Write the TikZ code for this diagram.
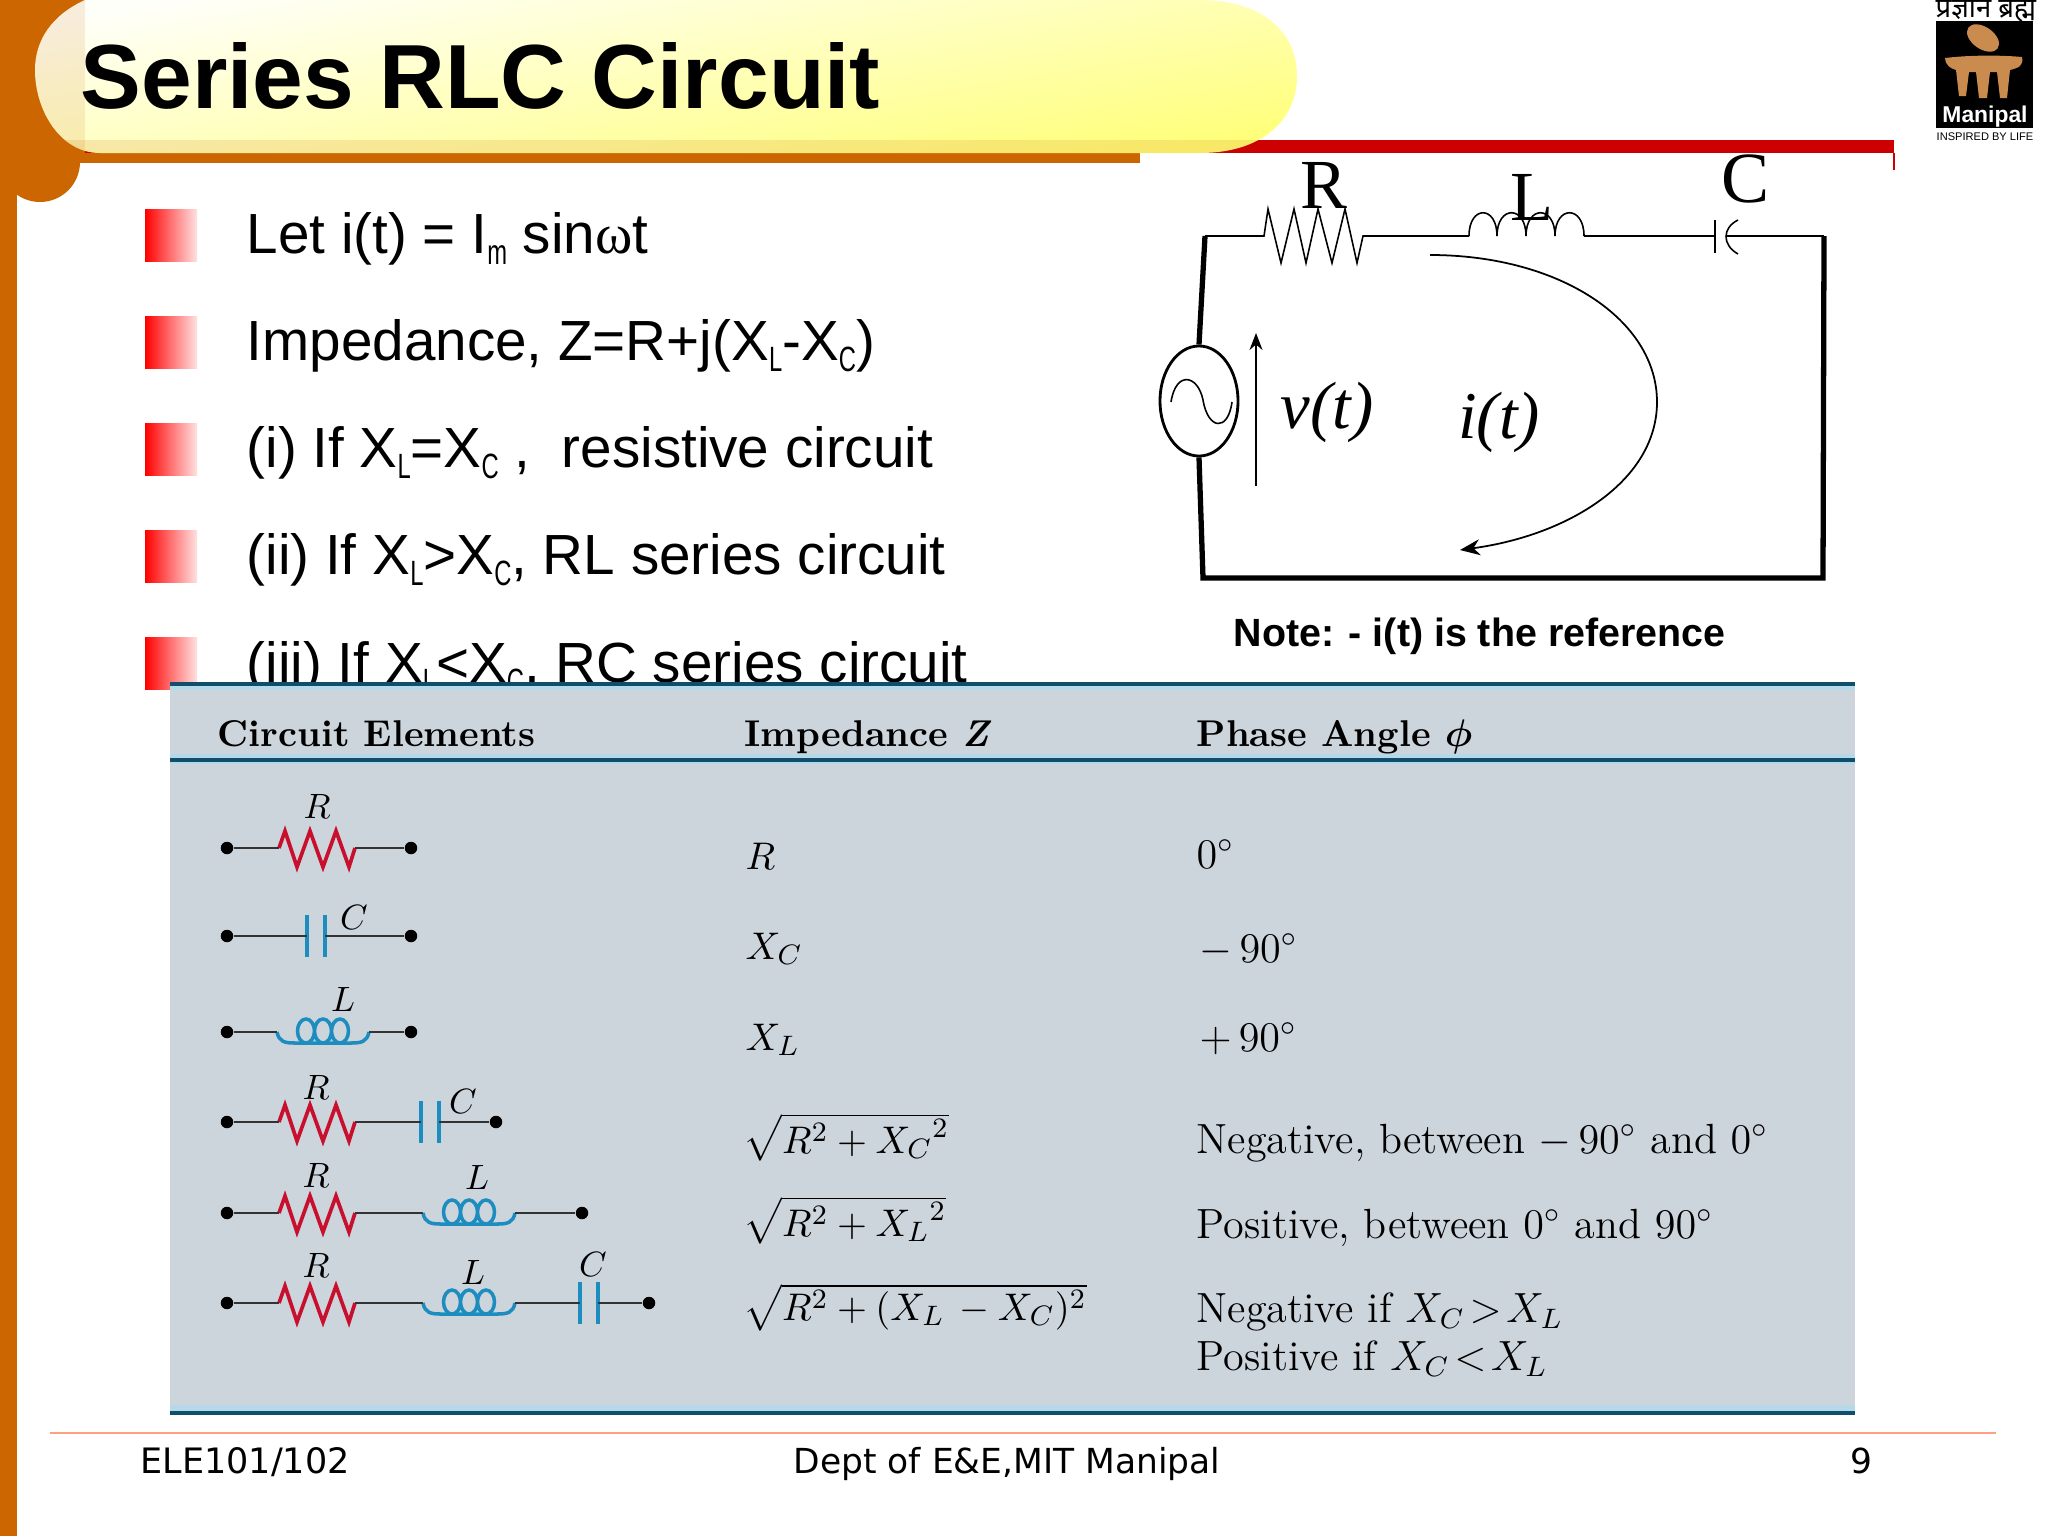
\documentclass[tikz,border=0pt]{standalone}
\usepackage{amsmath}
\usepackage{fontspec}
\usetikzlibrary{arrows.meta,shapes.geometric}
\newfontfamily\arial{Liberation Sans}
\newfontfamily\timesf{Liberation Serif}
\newfontfamily\footf{DejaVu Sans}
\newfontfamily\deva[Script=Devanagari]{Noto Sans}
\newcommand{\tsub}[1]{\raisebox{-.38ex}{\scalebox{.42}[.62]{#1}}}
\definecolor{slideorange}{HTML}{CC6600}
\definecolor{slidered}{HTML}{CC0000}
\definecolor{panel}{HTML}{CDD5DC}
\definecolor{ruleteal}{HTML}{0F4F6B}
\definecolor{paleblue}{HTML}{B5D9E8}
\definecolor{resred}{HTML}{C8102E}
\definecolor{capblue}{HTML}{1C8DBE}
\definecolor{logobrown}{HTML}{C98B4E}
\begin{document}
\begin{tikzpicture}[x=0.01cm,y=-0.01cm,
  txt/.style={anchor=base west,inner sep=0pt},
  bul/.style={txt,font=\arial\fontsize{16.1}{17}\selectfont},
  sq/.style={left color=red,right color=red!12,middle color=red!55},
  tab/.style={txt,font=\large},
  imp/.style={txt,font=\fontsize{10.95}{13}\selectfont},
  hdr/.style={txt,font=\bfseries\fontsize{10.6}{13}\selectfont},
  sym/.style={anchor=center,inner sep=0pt,font=\itshape\normalsize},
  big/.style={anchor=center,inner sep=0pt,font=\timesf\fontsize{20}{20}\selectfont},
  ita/.style={anchor=center,inner sep=0pt,font=\timesf\itshape\fontsize{19}{20}\selectfont},
  ele/.style={fill=black,circle,minimum size=0.125cm,inner sep=0pt},
  wire/.style={draw=black!80,line width=0.8pt},
  thinw/.style={draw=black,line width=0.45pt},
  heavy/.style={draw=black,line width=1.5pt},
  tres/.pic={\coordinate (-in) at (0,0); \coordinate (-out) at (76,0);
    \draw[resred,line width=1.05pt] (0,0) -- (6,-17) -- (18,19) -- (31,-17) -- (44,19) -- (57,-17) -- (70,19) -- (76,0);},
  tcap/.pic={\coordinate (-in) at (0,0); \coordinate (-out) at (18,0);
    \draw[capblue,line width=1.25pt] (0,-21) -- (0,21) (18,-21) -- (18,21);},
  tind/.pic={\coordinate (-in) at (0,0); \coordinate (-out) at (92,0);
    \draw[capblue,line width=1pt] (0,0) .. controls (2,10) and (8,11) .. (18,11) -- (74,11) .. controls (84,11) and (90,10) .. (92,0);
    \draw[capblue,line width=1pt] (29,-1) ellipse (8.5 and 12) (46,-1) ellipse (8.5 and 12) (63,-1) ellipse (8.5 and 12);}]
\useasboundingbox (0,0) rectangle (2048,1536);
% frame of the slide
\fill[slideorange] (0,0) rectangle (17,1536);
\fill[slideorange] (0,0) rectangle (85,163);
\fill[slideorange] (40,162) circle (40);
\fill[slidered] (85,140) rectangle (1894,153);
\fill[slidered] (1893,153) rectangle (1894.5,170);
\fill[slideorange] (85,153) rectangle (1140,163);
\path[top color=yellow!2,bottom color=yellow!52,shading angle=9,
  path picture={\fill[slideorange,opacity=.12] (0,0) rectangle (85,153);
    \fill[slideorange,opacity=.15] (0,140) rectangle (1300,153);}]
  (85,0) -- (1200,0) .. controls (1262,0) and (1297,32) .. (1297,76)
  .. controls (1297,120) and (1262,153) .. (1200,153) -- (100,153)
  .. controls (60,153) and (35,110) .. (35,70) .. controls (35,40) and (52,15) .. (85,0) -- cycle;
\node[txt,font=\arial\bfseries\fontsize{25.9}{26}\selectfont] (title) at (80,108) {Series RLC Circuit};
% bullets
\fill[sq] (145,209) rectangle (197,261);
\fill[sq] (145,316) rectangle (197,368);
\fill[sq] (145,423) rectangle (197,475);
\fill[sq] (145,530) rectangle (197,582);
\fill[sq] (145,637) rectangle (197,689);
\node[bul] (b1) at (246,253.5) {Let i(t) = I\tsub{m} sin{\timesf ω}t};
\node[bul] (b2) at (246,360.5) {Impedance, Z=R+j(X\tsub{L}-X\tsub{C})};
\node[bul] (b3) at (246,467.5) {(i) If X\tsub{L}=X\tsub{C} ,\ \ resistive circuit};
\node[bul] (b4) at (246,574.5) {(ii) If X\tsub{L}>X\tsub{C}, RL series circuit};
\node[bul] (b5) at (246,682) {(iii) If X\tsub{L}<X\tsub{C}, RC series circuit};
% circuit
\coordinate (tl) at (1205,236);
\coordinate (tr) at (1824,236);
\coordinate (bl) at (1203,578);
\coordinate (br) at (1823,578);
\coordinate (ra) at (1264,236);
\coordinate (rb) at (1363,236);
\coordinate (la) at (1469,236);
\coordinate (lb) at (1584,236);
\coordinate (ca) at (1715,236);
\coordinate (cb) at (1727,236);
\node[ellipse,draw,thick,minimum width=0.78cm,minimum height=1.1cm,inner sep=0pt] (src) at (1199,401) {};
\draw[thinw] (tl) -- (ra) -- (1268,209) -- (1281,263) -- (1294,209) -- (1306,263) -- (1318,209) -- (1332,263) -- (1345,209) -- (1357,263) -- (rb) -- (la);
\draw[thinw] (la) .. controls (1469,205) and (1497,205) .. (1497,236) .. controls (1497,205) and (1526,205) .. (1526,236)
  .. controls (1526,205) and (1555,205) .. (1555,236) .. controls (1555,205) and (1584,205) .. (lb);
\draw[thinw] (lb) -- (ca);
\draw[thinw] (1715,220) -- (1715,253);
\draw[thinw] (1738,220) .. controls (1722,228) and (1722,245) .. (1738,254);
\draw[thinw] (cb) -- (tr);
\draw[heavy] (tl) -- (src.north);
\draw[heavy] (src.south) -- (bl) -- (br) -- (tr);
\draw[thinw] (1171,402) .. controls (1176,370) and (1198,375) .. (1203,400) .. controls (1208,430) and (1228,432) .. (1232,402);
\coordinate (va) at (1256,486);
\coordinate (vb) at (1256,333);
\draw[thinw,-{Stealth[length=0.17cm,width=0.13cm]}] (va) -- (vb);
\coordinate (ia) at (1430,255);
\coordinate (ib) at (1657,402);
\coordinate (ic) at (1460,550);
\draw[thinw,line width=0.5pt,-{Stealth[length=0.2cm,width=0.16cm]}] (ia) .. controls (1560,255) and (1657,320) .. (ib) .. controls (1657,480) and (1570,535) .. (ic);
\node[big] (labR) at (1324,185) {R};
\node[big] (labL) at (1532,197) {L};
\node[big,font=\timesf\fontsize{20.5}{21}\selectfont] (labC) at (1746,179) {C};
\node[ita] (labv) at (1327,412) {v(t)};
\node[ita] (labi) at (1499,422) {i(t)};
\node[txt,font=\arial\bfseries\fontsize{11.2}{12}\selectfont] (note) at (1233,646) {Note: - i(t) is the reference};
% logo
\node[txt,font=\deva\bfseries\fontsize{7.8}{8}\selectfont] (hindi) at (1935,17) {प्रज्ञानं ब्रह्म};
\fill[black] (1936,21) rectangle (2033,128);
\fill[logobrown,rotate around={-35:(1983,38)}] (1983,38) ellipse (18 and 11);
\fill[logobrown] (1945,58) .. controls (1970,55) and (2000,55) .. (2022,57) .. controls (2024,66) and (2018,68) .. (2010,70)
  -- (2007,98) -- (2000,98) -- (1997,72) -- (1990,72) -- (1987,98) -- (1979,98) -- (1976,72) -- (1969,72) -- (1966,96) -- (1959,96) -- (1956,70) .. controls (1950,68) and (1946,66) .. (1945,58) -- cycle;
\node[anchor=center,inner sep=0pt,text=white,font=\arial\bfseries\fontsize{6.5}{7}\selectfont] (manipal) at (1985,117) {Manipal};
\node[anchor=center,inner sep=0pt,font=\arial\fontsize{3.15}{4}\selectfont] (slogan) at (1985,137) {INSPIRED BY LIFE};
% table
\fill[panel] (170,683) rectangle (1855,1413);
\fill[paleblue] (170,683) rectangle (1855,690);
\fill[paleblue] (170,754) rectangle (1855,764);
\fill[paleblue] (170,1405) rectangle (1855,1411);
\draw[ruleteal,line width=1.1pt] (170,684) -- (1855,684);
\draw[ruleteal,line width=1.1pt] (170,760) -- (1855,760);
\draw[ruleteal,line width=1.1pt] (170,1413) -- (1855,1413);
\node[hdr] (h1) at (217,746) {Circuit Elements};
\node[hdr] (h2) at (744,746) {Impedance {\itshape Z}};
\node[hdr] (h3) at (1196,746) {Phase Angle $\boldsymbol{\phi}$};
\node[imp] (z1) at (745,869) {$R$};
\node[imp] (z2) at (745,959) {$X_C$};
\node[imp] (z3) at (745,1050) {$X_L$};
\node[imp] (z4) at (743,1153) {$\sqrt{R^2+{X_C}^2}$};
\node[imp] (z5) at (743,1236) {$\sqrt{R^2+{X_L}^2}$};
\node[imp] (z6) at (743,1320) {$\sqrt{R^2+(X_L\,-X_C)^2}$};
\node[tab] (p1) at (1196,868) {$0^\circ$};
\node[tab] (p2) at (1199,962) {$-\,90^\circ$};
\node[tab] (p3) at (1199,1051) {$+\,90^\circ$};
\node[tab] (p4) at (1196,1153) {Negative, between $-\,90^\circ$ and $0^\circ$};
\node[tab] (p5) at (1196,1238) {Positive, between $0^\circ$ and $90^\circ$};
\node[tab] (p6) at (1196,1322) {Negative if $X_C\!>\!X_L$};
\node[tab] (p7) at (1196,1370) {Positive if $X_C\!<\!X_L$};
% row 1
\node[ele] (d1a) at (227,848) {};
\node[ele] (d1b) at (411,848) {};
\pic (r1) at (279,848) {tres};
\draw[wire] (d1a) -- (r1-in) (r1-out) -- (d1b);
\node[sym] (lr1) at (317,806) {$R$};
% row 2
\node[ele] (d2a) at (227,936) {};
\node[ele] (d2b) at (411,936) {};
\pic (c2) at (307,936) {tcap};
\draw[wire] (d2a) -- (c2-in) (c2-out) -- (d2b);
\node[sym] (lc2) at (354,917) {$C$};
% row 3
\node[ele] (d3a) at (227,1032) {};
\node[ele] (d3b) at (411,1032) {};
\pic (l3) at (277,1032) {tind};
\draw[wire] (d3a) -- (l3-in) (l3-out) -- (d3b);
\node[sym] (ll3) at (343,999) {$L$};
% row 4
\node[ele] (d4a) at (227,1122) {};
\node[ele] (d4b) at (496,1122) {};
\pic (r4) at (279,1122) {tres};
\pic (c4) at (421,1122) {tcap};
\draw[wire] (d4a) -- (r4-in) (r4-out) -- (c4-in) (c4-out) -- (d4b);
\node[sym] (lr4) at (316,1087) {$R$};
\node[sym] (lc4) at (463,1101) {$C$};
% row 5
\node[ele] (d5a) at (227,1213) {};
\node[ele] (d5b) at (582,1213) {};
\pic (r5) at (279,1213) {tres};
\pic (l5) at (423,1213) {tind};
\draw[wire] (d5a) -- (r5-in) (r5-out) -- (l5-in) (l5-out) -- (d5b);
\node[sym] (lr5) at (316,1175) {$R$};
\node[sym] (ll5) at (477,1177) {$L$};
% row 6
\node[ele] (d6a) at (227,1303) {};
\node[ele] (d6b) at (649,1303) {};
\pic (r6) at (279,1303) {tres};
\pic (l6) at (423,1303) {tind};
\pic (c6) at (580,1303) {tcap};
\draw[wire] (d6a) -- (r6-in) (r6-out) -- (l6-in) (l6-out) -- (c6-in) (c6-out) -- (d6b);
\node[sym] (lr6) at (316,1265) {$R$};
\node[sym] (ll6) at (473,1272) {$L$};
\node[sym] (lc6) at (593,1264) {$C$};
% footer
\draw[red!50!orange!50,line width=0.4pt] (50,1433) -- (1996,1433);
\node[txt,font=\footf\fontsize{9.95}{10}\selectfont] (f1) at (140,1473) {ELE101/102};
\node[anchor=base,inner sep=0pt,font=\footf\fontsize{9.8}{10}\selectfont] (f2) at (1007,1473) {Dept of E\&E,MIT Manipal};
\node[anchor=base east,inner sep=0pt,font=\footf\fontsize{9.8}{10}\selectfont] (f3) at (1873,1473) {9};
\end{tikzpicture}
\end{document}
